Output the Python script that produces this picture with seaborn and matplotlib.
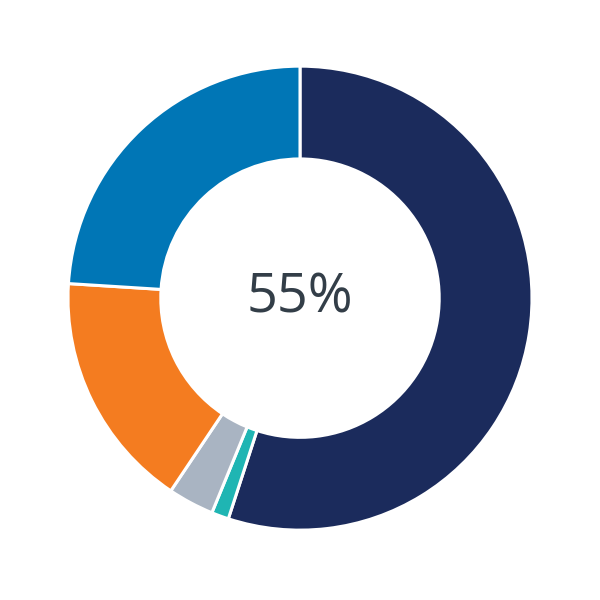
import matplotlib
matplotlib.use("Agg")
import matplotlib.pyplot as plt
import seaborn as sns

# slices, clockwise from 12 o'clock
labels = ["Navy", "Teal", "Gray", "Orange", "Blue"]
shares = [55, 1.2, 3.2, 16.6, 24]
colors = ["#1b2b5c", "#1fb5b3", "#a9b4c2", "#f47c20", "#0076b6"]
center_text = "55%"

sns.set_style("white")
plt.rcParams["font.family"] = ["Open Sans", "DejaVu Sans"]

fig = plt.figure(figsize=(6, 6), dpi=100)
ax = fig.add_axes([0, 0, 1, 1])

ax.pie(shares, colors=colors, startangle=90, counterclock=False,
       radius=1.0, center=(0, 0.008),
       wedgeprops=dict(width=0.4, edgecolor="white", linewidth=2.2))

ax.text(0, 0.008, center_text, ha="center", va="center",
        fontsize=39, color="#333e48", fontweight="normal")

lim = 300 / 232
ax.set_xlim(-lim, lim)
ax.set_ylim(-lim, lim)
ax.set_aspect("equal")
ax.axis("off")

fig.savefig("out.png", dpi=100, facecolor="white")
